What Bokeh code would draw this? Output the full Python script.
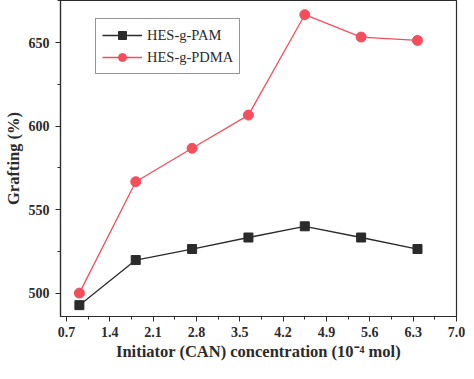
from bokeh.plotting import figure
from bokeh.models import FixedTicker, PrintfTickFormatter, Range1d, Legend, LegendItem
from bokeh.embed import file_html
from bokeh.resources import INLINE

# data
conc = [0.91, 1.82, 2.73, 3.64, 4.55, 5.46, 6.37]
pam = [492.8, 519.8, 526.4, 533.3, 540.0, 533.3, 526.4]
pdma = [500.0, 566.7, 586.7, 606.6, 666.7, 653.3, 651.3]
x_ticks = [0.7, 1.4, 2.1, 2.8, 3.5, 4.2, 4.9, 5.6, 6.3, 7.0]
x_minor = [1.05, 1.75, 2.45, 3.15, 3.85, 4.55, 5.25, 5.95, 6.65]
y_ticks = [500, 550, 600, 650]
y_minor = [525, 575, 625, 675]

FONT = "Liberation Serif"
BLACK = "#2b2b2b"
RED = "#f44e5c"

p = figure(width=466, height=363, output_backend="svg", toolbar_location=None,
           x_range=Range1d(0.605, 7.0), y_range=Range1d(486.0, 675.2))
p.min_border_left = 54
p.min_border_right = 10
p.min_border_top = 0
p.min_border_bottom = 0
p.xgrid.visible = False
p.ygrid.visible = False
p.outline_line_color = BLACK
p.outline_line_width = 1.2

r1_l = p.line(conc, pam, line_color=BLACK, line_width=1.3)
r1_m = p.scatter(conc, pam, marker="square", size=9, fill_color=BLACK, line_color=BLACK)
r2_l = p.line(conc, pdma, line_color=RED, line_width=1.3)
r2_m = p.scatter(conc, pdma, marker="circle", size=10, fill_color=RED, line_color=RED)

p.xaxis.ticker = FixedTicker(ticks=x_ticks, minor_ticks=x_minor)
p.xaxis.formatter = PrintfTickFormatter(format="%.1f")
p.yaxis.ticker = FixedTicker(ticks=y_ticks, minor_ticks=y_minor)

for ax in (p.xaxis[0], p.yaxis[0]):
    ax.axis_line_color = BLACK
    ax.axis_line_width = 1.2
    ax.major_tick_line_color = BLACK
    ax.minor_tick_line_color = BLACK
    ax.major_tick_out = 5
    ax.major_tick_in = 0
    ax.minor_tick_out = 3
    ax.minor_tick_in = 0
    ax.major_label_text_font = FONT
    ax.major_label_text_font_style = "bold"
    ax.major_label_text_font_size = "14px"
    ax.major_label_text_color = BLACK
    ax.axis_label_text_font = FONT
    ax.axis_label_text_font_style = "bold"
    ax.axis_label_text_font_size = "16.5px"
    ax.axis_label_text_color = BLACK

p.xaxis.axis_label = "Initiator (CAN) concentration (10\u207b\u2074 mol)"
p.yaxis.axis_label = "Grafting (%)"
p.xaxis.major_label_standoff = 5
p.xaxis.axis_label_standoff = 2
p.yaxis.major_label_standoff = 6
p.yaxis.axis_label_standoff = 3

legend = Legend(items=[
    LegendItem(label="HES-g-PAM", renderers=[r1_l, r1_m]),
    LegendItem(label="HES-g-PDMA", renderers=[r2_l, r2_m]),
], location=(35, 242))
legend.border_line_color = BLACK
legend.border_line_width = 1.2
legend.label_text_font = FONT
legend.label_text_font_size = "14.5px"
legend.label_text_color = BLACK
legend.glyph_width = 40
legend.spacing = 2
legend.padding = 6
legend.margin = 0
legend.background_fill_alpha = 1
p.add_layout(legend)

open("out.html", "w").write(file_html(p, INLINE))
